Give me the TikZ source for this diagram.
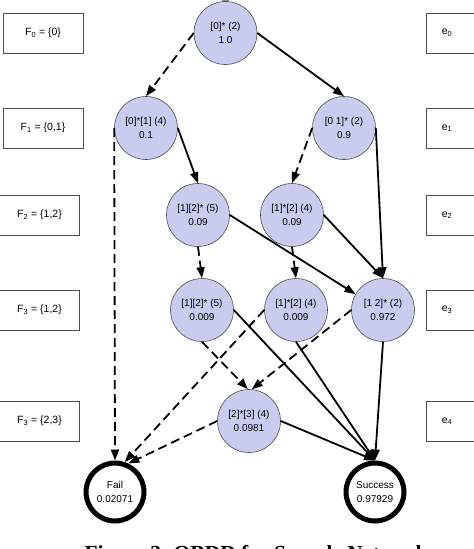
\documentclass[tikz,border=0pt]{standalone}
\usepackage{fontspec}
\setmainfont{Liberation Sans}
\newfontfamily\capfont{Liberation Serif}
\usetikzlibrary{arrows.meta}
\definecolor{nodefill}{RGB}{201,204,238}
\begin{document}
\begin{tikzpicture}[x=1pt,y=-1pt,
  bnode/.style={circle,draw=black!70,line width=0.6pt,fill=nodefill,minimum size=63pt,inner sep=0pt,align=center,font=\fontsize{10}{13.5}\selectfont},
  term/.style={circle,draw=black,line width=5pt,fill=white,minimum size=58pt,inner sep=0pt,outer sep=2.5pt,align=center,font=\fontsize{10}{13.5}\selectfont},
  lvlbox/.style={draw=black!70,line width=0.7pt,minimum width=80pt,minimum height=40pt,inner sep=0pt,font=\fontsize{10.5}{12}\selectfont},
  lbl/.style={inner sep=0pt,font=\fontsize{10.5}{12}\selectfont},
  hi/.style={-{Triangle[length=11pt,width=8pt]},line width=1.8pt},
  lo/.style={hi,dash pattern=on 9pt off 5pt},
]
\useasboundingbox[clip] (0,0) rectangle (474,549);
\fill[white] (0,0) rectangle (474,549);
% level boxes
\node[lvlbox] (F0) at (43,33) {F\textsubscript{0} = \{0\}};
\node[lvlbox] (F1) at (43,128) {F\textsubscript{1} = \{0,1\}};
\node[lvlbox] (F2) at (39.5,215) {F\textsubscript{2} = \{1,2\}};
\node[lvlbox] (F3) at (39.5,310) {F\textsubscript{3} = \{1,2\}};
\node[lvlbox] (F4) at (39.5,421) {F\textsubscript{3} = \{2,3\}};
\node[lvlbox] (E0) at (466,33) {};
\node[lvlbox] (E1) at (466,128) {};
\node[lvlbox] (E2) at (466,215) {};
\node[lvlbox] (E3) at (466,310) {};
\node[lvlbox] (E4) at (466,421) {};
\node[lbl] (e0) at (447,33) {e\textsubscript{0}};
\node[lbl] (e1) at (447,128) {e\textsubscript{1}};
\node[lbl] (e2) at (447,215) {e\textsubscript{2}};
\node[lbl] (e3) at (447,310) {e\textsubscript{3}};
\node[lbl] (e4) at (447,421) {e\textsubscript{4}};
% stub above root
\fill[black!45] (222,0) rectangle (229,3);
% decision nodes
\node[bnode] (R) at (225.5,33) {[0]* (2)\\1.0};
\node[bnode] (A) at (146,128) {[0]*[1] (4)\\0.1};
\node[bnode] (B) at (344,128) {[0 1]* (2)\\0.9};
\node[bnode] (C) at (198,215) {[1][2]* (5)\\0.09};
\node[bnode] (D) at (292,215) {[1]*[2] (4)\\0.09};
\node[bnode] (F) at (202,310) {[1][2]* (5)\\0.009};
\node[bnode] (G) at (296,310) {[1]*[2] (4)\\0.009};
\node[bnode] (E) at (383,310) {[1 2]* (2)\\0.972};
\node[bnode] (H) at (249,421) {[2]*[3] (4)\\0.0981};
\node[term] (Fail) at (115,492) {Fail\\0.02071};
\node[term] (Succ) at (375,492) {Success\\0.97929};
% edges
\draw[lo] (R.west) -- (A.north);
\draw[hi] (R.east) -- (B.north);
\draw[lo] (A.west) -- (Fail.north);
\draw[hi] (A.east) -- (C.north);
\draw[lo] (B.west) -- (D.north);
\draw[hi] (B.east) -- (E.north);
\draw[lo] (C.south) -- (F.north);
\draw[hi] (C.east) -- (E.150);
\draw[lo] (D.south) -- (G.north);
\draw[hi] (D.east) -- (E.north);
\draw[lo] (F.south) -- (H.92);
\draw[hi] (F.east) -- (Succ.north);
\draw[lo] (G.west) -- (Fail.72);
\draw[hi] (G.south) -- (Succ.north);
\draw[lo] (E.west) -- (H.85);
\draw[hi] (E.south) -- (Succ.north);
\draw[lo] (H.west) -- (Fail.65);
\draw[hi] (H.east) -- (Succ.north);
% caption (cut off by the lower edge, as in the reference)
\node[anchor=base,inner sep=0pt,font=\capfont\bfseries\fontsize{21.5}{25}\selectfont] (cap) at (256,560) {Figure 3. OBDD for Sample Network};
\end{tikzpicture}
\end{document}
